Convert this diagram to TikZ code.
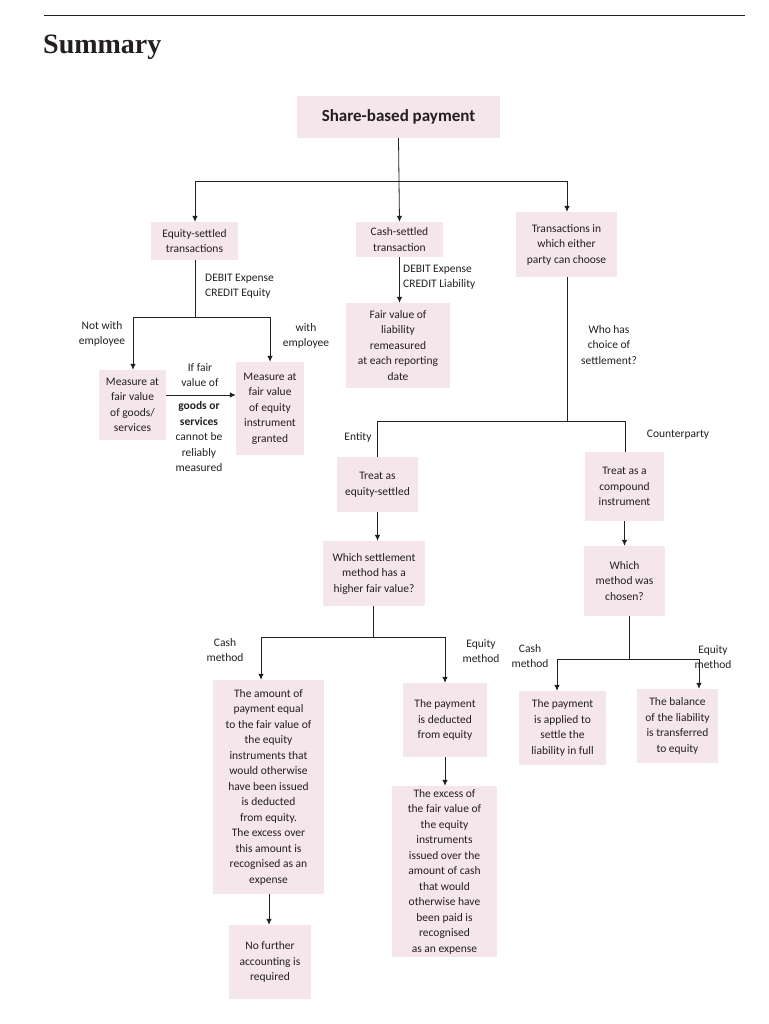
\documentclass[tikz,border=0pt]{standalone}
\usepackage{fontspec}
\setmainfont{Carlito}
\newfontfamily\serifb{Liberation Serif}
\usetikzlibrary{arrows.meta}
\definecolor{boxpink}{HTML}{F5E6EC}
\definecolor{ink}{HTML}{231F20}
\newcommand\bx[6]{\node[box,minimum width={(#4-#2)*1pt},minimum height={(#5-#3)*1pt}] (#1) at ({(#2+#4)/2},{(#3+#5)/2}) {#6};}
\begin{document}
\begin{tikzpicture}[x=1pt,y=-1pt,
  box/.style={fill=boxpink,draw=none,align=center,inner sep=1pt,font=\fontsize{11.5}{15.5}\selectfont,text=ink},
  lbl/.style={align=center,font=\fontsize{11.5}{15.5}\selectfont,text=ink,inner sep=0pt},
  lbll/.style={align=left,font=\fontsize{11.5}{15.5}\selectfont,text=ink,inner sep=0pt,anchor=west},
  ln/.style={draw=ink,line width=0.8pt},
  arr/.style={ln,-{Latex[length=6pt,width=5.5pt]}}]
\useasboundingbox (0,0) rectangle (768,1024);
\draw[ink,line width=0.8pt] (44,15) -- (745,15);
\node[anchor=west,inner sep=0pt,font=\serifb\bfseries\fontsize{28}{30}\selectfont,text=ink] (title) at (43,47) {Summary};
\bx{sbp}{297}{96}{500}{138}{\textbf{\fontsize{17}{20}\selectfont Share-based payment}}
\bx{eq}{151}{222}{238}{260}{Equity-settled\\transactions}
\bx{cs}{356}{222}{443}{257}{Cash-settled\\transaction}
\bx{tr}{516}{212}{617}{277}{Transactions in\\which either\\party can choose}
\bx{mg}{99}{370}{166}{440}{Measure at\\fair value\\of goods/\\services}
\bx{me}{236}{362}{304}{455}{Measure at\\fair value\\of equity\\instrument\\granted}
\bx{fv}{346}{303}{450}{388}{Fair value of\\liability\\remeasured\\at each reporting\\date}
\bx{te}{337}{457}{418}{512}{Treat as\\equity-settled}
\bx{tc}{585}{452}{664}{521}{Treat as a\\compound\\instrument}
\bx{ws}{323}{541}{425}{606}{Which settlement\\method has a\\higher fair value?}
\bx{wm}{584}{546}{665}{616}{Which\\method was\\chosen?}
\bx{am}{213}{680}{324}{894}{The amount of\\payment equal\\to the fair value of\\the equity\\instruments that\\would otherwise\\have been issued\\is deducted\\from equity.\\The excess over\\this amount is\\recognised as an\\expense}
\bx{pd}{403}{683}{487}{757}{The payment\\is deducted\\from equity}
\bx{nf}{229}{925}{311}{999}{No further\\accounting is\\required}
\bx{ex}{392}{786}{497}{957}{The excess of\\the fair value of\\the equity\\instruments\\issued over the\\amount of cash\\that would\\otherwise have\\been paid is\\recognised\\as an expense}
\bx{pa}{519}{691}{606}{765}{The payment\\is applied to\\settle the\\liability in full}
\bx{bl}{637}{689}{718}{763}{The balance\\of the liability\\is transferred\\to equity}
% coordinates
\coordinate (j1) at (399,181);
\coordinate (j1l) at (195,181);
\coordinate (j1r) at (567,181);
\coordinate (j2) at (195,317);
\coordinate (j2l) at (133,317);
\coordinate (j2r) at (270,317);
\coordinate (j3) at (567,421);
\coordinate (j3l) at (377,421);
\coordinate (j3r) at (625,421);
\coordinate (j4) at (373,637);
\coordinate (j4l) at (261,637);
\coordinate (j4r) at (445,637);
\coordinate (j5) at (629,659);
\coordinate (j5l) at (557,659);
\coordinate (j5r) at (699,659);
% connectors
\draw[ln] (sbp.south) -- (j1);
\draw[ln] (j1l) -- (j1r);
\draw[arr] (j1l) -- (eq.north -| j1l);
\draw[arr] (j1) -- (cs.north);
\draw[arr] (j1r) -- (tr.north -| j1r);
\draw[ln] (eq.south -| j2) -- (j2);
\draw[ln] (j2l) -- (j2r);
\draw[arr] (j2l) -- (mg.north -| j2l);
\draw[arr] (j2r) -- (me.north -| j2r);
\draw[arr] (mg.east |- 0,395) -- (me.west |- 0,395);
\draw[arr] (cs.south) -- (fv.north -| cs.south);
\draw[ln] (tr.south -| j3) -- (j3);
\draw[ln] (j3l) -- (j3r);
\draw[ln] (j3l) -- (te.north -| j3l);
\draw[ln] (j3r) -- (tc.north -| j3r);
\draw[arr] (te.south) -- (ws.north -| te.south);
\draw[arr] (tc.south) -- (wm.north -| tc.south);
\draw[ln] (ws.south -| j4) -- (j4);
\draw[ln] (j4l) -- (j4r);
\draw[arr] (j4l) -- (am.north -| j4l);
\draw[arr] (j4r) -- (pd.north -| j4r);
\draw[arr] (am.south -| 269,0) -- (nf.north -| 269,0);
\draw[arr] (pd.south -| 445,0) -- (ex.north -| 445,0);
\draw[ln] (wm.south -| j5) -- (j5);
\draw[ln] (j5l) -- (j5r);
\draw[arr] (j5l) -- (pa.north -| j5l);
\draw[arr] (j5r) -- (bl.north -| j5r);
% labels
\node[lbll] (l1) at (205,286) {DEBIT Expense\\CREDIT Equity};
\node[lbll] (l2) at (403,277) {DEBIT Expense\\CREDIT Liability};
\node[lbl] (l3) at (102,334) {Not with\\employee};
\node[lbl] (l4) at (306,336) {with\\employee};
\node[lbl] (l5) at (200,375) {If fair\\value of};
\node[lbl] (l6) at (199,437) {\textbf{goods or}\\\textbf{services}\\cannot be\\reliably\\measured};
\node[lbl] (l7) at (609,345) {Who has\\choice of\\settlement?};
\node[lbl] (l8) at (358,437) {Entity};
\node[lbl] (l9) at (678,435) {Counterparty};
\node[lbl] (l10) at (225,650) {Cash\\method};
\node[lbl] (l11) at (481,651) {Equity\\method};
\node[lbl] (l12) at (530,656) {Cash\\method};
\node[lbl] (l13) at (713,657) {Equity\\method};
\end{tikzpicture}
\end{document}
